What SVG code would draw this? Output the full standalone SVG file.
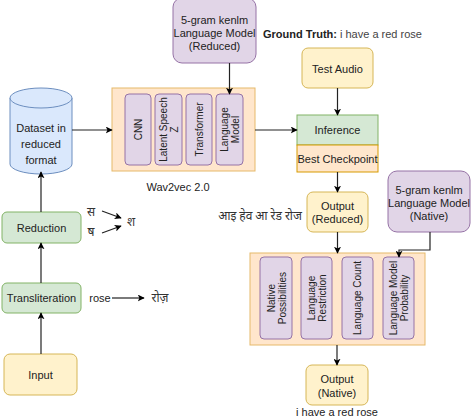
<svg xmlns="http://www.w3.org/2000/svg" width="474" height="417" viewBox="0 0 474 417">
<defs>
<marker id="arr" viewBox="0 0 10 10" refX="9" refY="5" markerWidth="7" markerHeight="7" orient="auto" markerUnits="userSpaceOnUse">
<path d="M0,0 L10,5 L0,10 L2.5,5 Z" fill="#000"/>
</marker>
<style>
text{font-family:"Liberation Sans","Noto Sans",sans-serif;font-size:11px;fill:#222;text-anchor:middle;dominant-baseline:central}
.dev{font-family:"Liberation Serif","Noto Sans","DejaVu Sans",serif;font-size:12px;fill:#333}
.rot{font-size:10px}
.green{fill:#d5e8d4;stroke:#82b366;stroke-width:1}
.yellow{fill:#fff2cc;stroke:#d6b656;stroke-width:1}
.purple{fill:#e1d5e7;stroke:#9673a6;stroke-width:1}
.orange{fill:#ffe6cc;stroke:#d79b00;stroke-width:1}
.blue{fill:#dae8fc;stroke:#6c8ebf;stroke-width:1}
.c{fill:none;stroke:#222;stroke-width:1.2;marker-end:url(#arr)}
</style>
</defs>

<g id="dataset">
<path class="blue" d="M10,98 L10,164 A31,10 0 0 0 72,164 L72,98"/>
<ellipse class="blue" cx="41" cy="98" rx="31" ry="10"/>
<text x="41" y="128" font-size="12.5">Dataset in</text>
<text x="41" y="144" font-size="12.5">reduced</text>
<text x="41" y="160" font-size="12.5">format</text>
</g>

<g id="wav2vec">
<rect class="orange" x="112" y="88" width="143" height="83" style="stroke:#e6b96a"/>
<rect class="purple" x="125" y="94" width="26" height="71" rx="4"/>
<rect class="purple" x="155" y="94" width="27" height="71" rx="4"/>
<rect class="purple" x="186" y="94" width="26" height="71" rx="4"/>
<rect class="purple" x="216" y="94" width="27" height="71" rx="4"/>
<text class="rot" transform="translate(138,129.5) rotate(-90)">CNN</text>
<text class="rot" transform="translate(168.5,129.5) rotate(-90)"><tspan x="0" dy="-5.5">Latent Speech</tspan><tspan x="0" dy="11">Z</tspan></text>
<text class="rot" transform="translate(199,129.5) rotate(-90)">Transformer</text>
<text class="rot" transform="translate(229.5,129.5) rotate(-90)"><tspan x="0" dy="-5.5">Language</tspan><tspan x="0" dy="11">Model</tspan></text>
<text x="178" y="187" font-size="10.5">Wav2vec 2.0</text>
</g>

<g id="lm-reduced">
<rect class="purple" x="173" y="-2" width="83" height="65" rx="9"/>
<text x="214.5" y="20">5-gram kenlm</text>
<text x="214.5" y="33">Language Model</text>
<text x="214.5" y="46">(Reduced)</text>
</g>

<g id="ground-truth">
<text x="263" y="34" style="text-anchor:start" font-size="10"><tspan font-weight="bold">Ground Truth:</tspan><tspan fill="#444"> i have a red rose</tspan></text>
</g>

<g id="test-audio">
<rect class="yellow" x="302" y="48" width="71" height="40" rx="6"/>
<text x="337.5" y="68.5">Test Audio</text>
</g>

<g id="inference">
<rect class="green" x="297" y="115" width="81" height="30"/>
<text x="337.5" y="130">Inference</text>
</g>
<g id="best-checkpoint">
<rect class="orange" x="297" y="145" width="81" height="27"/>
<text x="337.5" y="158.5">Best Checkpoint</text>
</g>

<g id="output-reduced">
<rect class="yellow" x="307" y="192" width="61" height="40" rx="6"/>
<text x="337.5" y="205.5">Output</text>
<text x="337.5" y="219">(Reduced)</text>
<text class="dev" x="260" y="216" font-size="11.5">आइ हेव आ रेड रोज</text>
</g>

<g id="lm-native">
<rect class="purple" x="388" y="171" width="82" height="61" rx="9"/>
<text x="429" y="189.5">5-gram kenlm</text>
<text x="429" y="202.5">Language Model</text>
<text x="429" y="215.5">(Native)</text>
</g>

<g id="native-block">
<rect class="orange" x="250" y="253" width="175" height="92" style="stroke:#e6b96a"/>
<rect class="purple" x="260" y="257" width="32" height="82" rx="4"/>
<rect class="purple" x="301" y="257" width="31" height="82" rx="4"/>
<rect class="purple" x="342" y="257" width="31" height="82" rx="4"/>
<rect class="purple" x="383" y="257" width="31" height="82" rx="4"/>
<text class="rot" transform="translate(276,298) rotate(-90)"><tspan x="0" dy="-5.5">Native</tspan><tspan x="0" dy="11">Possibilities</tspan></text>
<text class="rot" transform="translate(316.5,298) rotate(-90)"><tspan x="0" dy="-5.5">Language</tspan><tspan x="0" dy="11">Restriction</tspan></text>
<text class="rot" transform="translate(357.5,298) rotate(-90)">Language Count</text>
<text class="rot" transform="translate(398.5,298) rotate(-90)"><tspan x="0" dy="-5.5">Language Model</tspan><tspan x="0" dy="11">Probability</tspan></text>
</g>

<g id="output-native">
<rect class="yellow" x="306" y="365" width="62" height="40" rx="6"/>
<text x="337" y="379">Output</text>
<text x="337" y="392.5">(Native)</text>
<text x="337" y="412" font-size="10.5">i have a red rose</text>
</g>

<g id="reduction">
<rect class="green" x="2" y="212" width="79" height="31" rx="5"/>
<text x="41.5" y="227.5">Reduction</text>
<text class="dev" x="91" y="212">स</text>
<text class="dev" x="91" y="232">ष</text>
<text class="dev" x="131" y="222">श</text>
</g>

<g id="transliteration">
<rect class="green" x="2" y="283" width="79" height="30" rx="5"/>
<text x="41.5" y="298">Transliteration</text>
<text x="100" y="298">rose</text>
<text class="dev" x="160" y="298">रोज़</text>
</g>

<g id="input">
<rect class="yellow" x="4" y="354" width="73" height="41" rx="6"/>
<text x="40.5" y="374.5">Input</text>
</g>

<g id="connectors">
<path class="c" d="M72,130 L112,130"/>
<path class="c" d="M229.5,63 L229.5,94"/>
<path class="c" d="M255,130 L297,130"/>
<path class="c" d="M337.5,88 L337.5,115"/>
<path class="c" d="M337.5,172 L337.5,192"/>
<path class="c" d="M337.5,232 L337.5,253"/>
<path class="c" d="M430,232 L430,250 L399,250 L399,257"/>
<path class="c" d="M337,345 L337,365"/>
<path class="c" d="M41,212 L41,172"/>
<path class="c" d="M41,283 L41,243"/>
<path class="c" d="M41,354 L41,313"/>
<path class="c" d="M102,211 L121,218"/>
<path class="c" d="M102,233 L121,226"/>
<path class="c" d="M112,298 L144,298"/>
</g>
</svg>
